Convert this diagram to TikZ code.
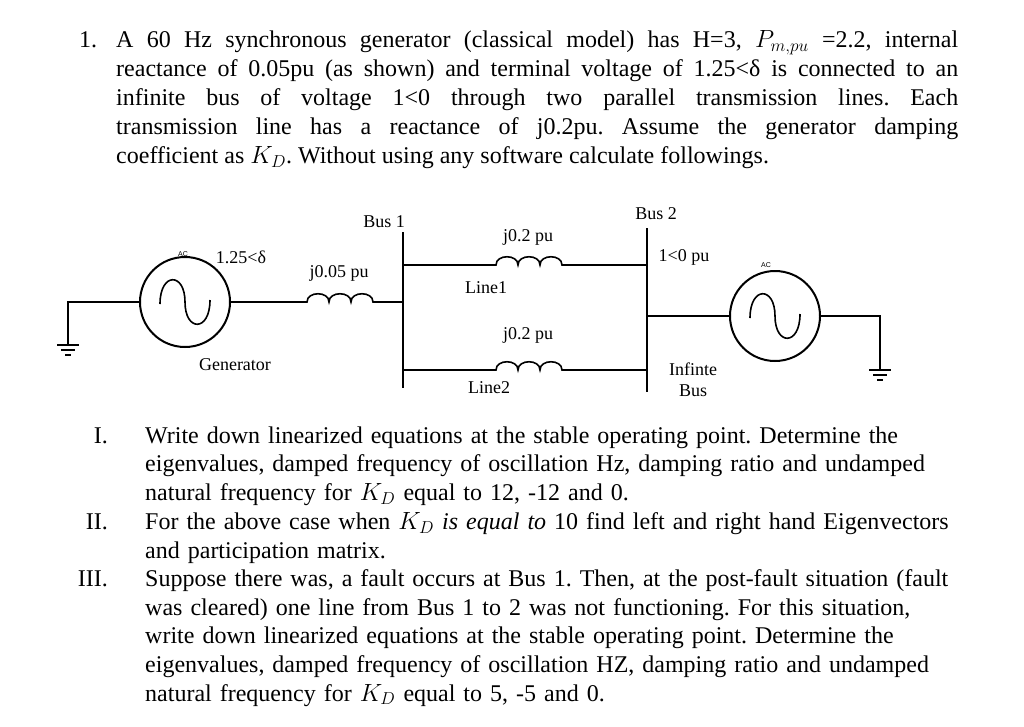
\documentclass[tikz,border=0pt]{standalone}
\usepackage{fontspec}
\setmainfont{Liberation Serif}
\setsansfont{Liberation Sans}
\frenchspacing
\begin{document}
\begin{tikzpicture}[x=1pt,y=-1pt,
  wire/.style={line width=1.6pt},
  lbl/.style={font=\fontsize{18}{19}\selectfont, inner sep=0pt},
  acl/.style={font=\sffamily\fontsize{7}{7}\selectfont, inner sep=0pt},
  gen/.style={circle, draw, line width=2pt, minimum size=90pt, inner sep=0pt},
  para/.style={font=\fontsize{24}{29}\selectfont, inner sep=0pt, anchor=north west, align=justify, text width=842pt},
  item/.style={font=\fontsize{24}{28.7}\selectfont, inner sep=0pt, anchor=north west, align=left, text width=850pt},
  num/.style={font=\fontsize{24}{28.7}\selectfont, inner sep=0pt, anchor=north east}]
\useasboundingbox (0,0) rectangle (1024,726);
% question text
\node[font=\fontsize{24}{29}\selectfont, inner sep=0pt, anchor=north west] (q1n) at (79,27) {\strut 1.};
\node[para] (q1) at (116,27) {\strut A 60 Hz synchronous generator (classical model) has H=3, $P_{m,pu}$ =2.2, internal\linebreak
reactance of 0.05pu (as shown) and terminal voltage of 1.25<δ is connected to an\linebreak
infinite bus of voltage 1<0 through two parallel transmission lines. Each\linebreak
transmission line has a reactance of j0.2pu. Assume the generator damping\linebreak
coefficient as $K_D$. Without using any software calculate followings.};
% circuit
\node[gen] (g1) at (185,302) {};
\node[gen] (g2) at (775,316) {};
\foreach \c in {g1,g2}{
  \draw[line width=1.6pt, shift={(\c)}] (-25,2) .. controls (-25,-30) and (0,-30) .. (0,0) .. controls (0,30) and (25,30) .. (25,-2);
}
\coordinate (gl) at (68,302);
\coordinate (gl2) at (68,345);
\coordinate (gr) at (880,316);
\coordinate (gr2) at (880,370);
\draw[wire] (g1.west) -- (gl) -- (gl2);
\draw[wire] (g2.east) -- (gr) -- (gr2);
\foreach \g in {gl2,gr2}{
  \draw[wire] ([xshift=-11pt]\g) -- ([xshift=11pt]\g);
  \draw[wire] ([xshift=-7pt,yshift=-5pt]\g) -- ([xshift=7pt,yshift=-5pt]\g);
  \draw[wire] ([xshift=-3pt,yshift=-10pt]\g) -- ([xshift=3pt,yshift=-10pt]\g);
}
% buses
\coordinate (b1t) at (403,232); \coordinate (b1b) at (403,388);
\coordinate (b2t) at (647,228); \coordinate (b2b) at (647,392);
\draw[wire] (b1t) -- (b1b);
\draw[wire] (b2t) -- (b2b);
% inductor j0.05
\coordinate (i1a) at (307,302); \coordinate (i1b) at (373,302); \coordinate (b1g) at (403,302);
\draw[wire] (g1.east) -- (i1a)
  .. controls +(0,-11) and +(0,-11) .. +(22,0)
  .. controls +(0,-11) and +(0,-11) .. +(44,0)
  .. controls +(0,-11) and +(0,-11) .. (i1b) -- (b1g);
% line1
\coordinate (l1a) at (403,265); \coordinate (l1i) at (496,265); \coordinate (l1j) at (562,265); \coordinate (l1b) at (647,265);
\draw[wire] (l1a) -- (l1i)
  .. controls +(0,-11) and +(0,-11) .. +(22,0)
  .. controls +(0,-11) and +(0,-11) .. +(44,0)
  .. controls +(0,-11) and +(0,-11) .. (l1j) -- (l1b);
% line2
\coordinate (l2a) at (403,370); \coordinate (l2i) at (496,370); \coordinate (l2j) at (562,370); \coordinate (l2b) at (647,370);
\draw[wire] (l2a) -- (l2i)
  .. controls +(0,-11) and +(0,-11) .. +(22,0)
  .. controls +(0,-11) and +(0,-11) .. +(44,0)
  .. controls +(0,-11) and +(0,-11) .. (l2j) -- (l2b);
\coordinate (b2g) at (647,316);
\draw[wire] (b2g) -- (g2.west);
% labels
\node[acl] (ac1) at (183,254) {AC};
\node[acl] (ac2) at (766,265) {AC};
\node[lbl] (v1) at (241,257) {1.25<δ};
\node[lbl] (x1) at (339,273) {j0.05 pu};
\node[lbl] (gn) at (235,365) {Generator};
\node[lbl] (bus1) at (384,222) {Bus 1};
\node[lbl] (bus2) at (656,214) {Bus 2};
\node[lbl] (x2) at (528,237) {j0.2 pu};
\node[lbl] (ln1) at (486,288) {Line1};
\node[lbl] (x3) at (528,335) {j0.2 pu};
\node[lbl] (ln2) at (489,388) {Line2};
\node[lbl] (v2) at (684,257) {1<0 pu};
\node[lbl] (ib1) at (693,369) {Infinte};
\node[lbl] (ib2) at (693,391) {Bus};
% items
\node[num] (n1) at (108,423) {\strut I.};
\node[item] (t1) at (145,423) {\strut Write down linearized equations at the stable operating point. Determine the\\
eigenvalues, damped frequency of oscillation Hz, damping ratio and undamped\\
natural frequency for $K_D$ equal to 12, -12 and 0.};
\node[num] (n2) at (108,509) {\strut II.};
\node[item] (t2) at (145,509) {\strut For the above case when $K_D~\mathit{is~equal~to}$ 10 find left and right hand Eigenvectors\\
and participation matrix.};
\node[num] (n3) at (108,566) {\strut III.};
\node[item] (t3) at (145,566) {\strut Suppose there was, a fault occurs at Bus 1. Then, at the post-fault situation (fault\\
was cleared) one line from Bus 1 to 2 was not functioning. For this situation,\\
write down linearized equations at the stable operating point. Determine the\\
eigenvalues, damped frequency of oscillation HZ, damping ratio and undamped\\
natural frequency for $K_D$ equal to 5, -5 and 0.};
\end{tikzpicture}
\end{document}
